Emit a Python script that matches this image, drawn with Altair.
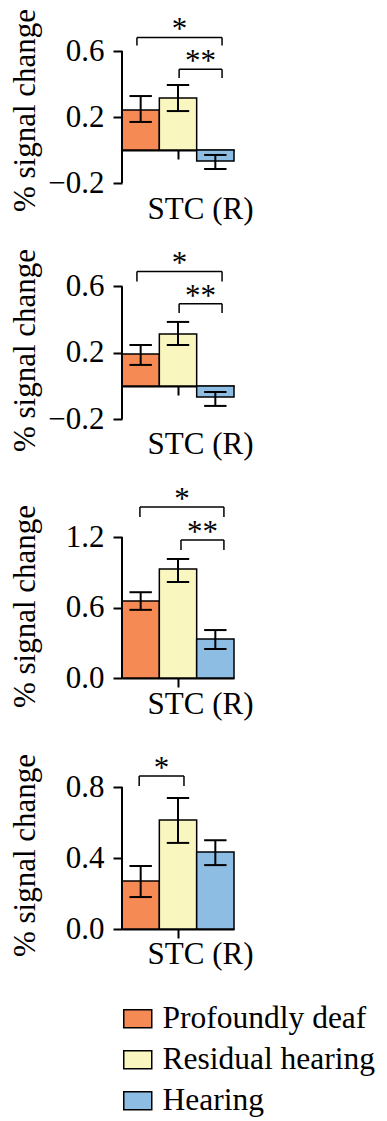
import altair as alt
import pandas as pd

# ---------------- data ----------------
groups = ["Profoundly deaf", "Residual hearing", "Hearing"]
colors = ["#F58A55", "#FAF6C0", "#8DBDE3"]
region = "STC (R)"
ytitle = "% signal change"

p1_mean = [0.242, 0.315, -0.067]
p1_lo = [0.170, 0.236, -0.115]
p1_hi = [0.327, 0.394, -0.030]
p1_ticks = [-0.2, 0.2, 0.6]
p1_sig = ["*", "**"]
p1_sig_x1 = [0.40, 1.53]
p1_sig_x2 = [2.68, 2.68]
p1_sig_y = [0.682, 0.490]
p1_sig_end = [0.633, 0.436]

p2_mean = [0.193, 0.313, -0.066]
p2_lo = [0.127, 0.247, -0.120]
p2_hi = [0.247, 0.386, -0.036]
p2_ticks = [-0.2, 0.2, 0.6]
p2_sig = ["*", "**"]
p2_sig_x1 = [0.40, 1.53]
p2_sig_x2 = [2.68, 2.68]
p2_sig_y = [0.690, 0.496]
p2_sig_end = [0.630, 0.440]

p3_mean = [0.655, 0.928, 0.332]
p3_lo = [0.580, 0.817, 0.247]
p3_hi = [0.730, 1.013, 0.408]
p3_ticks = [0.0, 0.6, 1.2]
p3_sig = ["*", "**"]
p3_sig_x1 = [0.48, 1.58]
p3_sig_x2 = [2.73, 2.73]
p3_sig_y = [1.455, 1.174]
p3_sig_end = [1.370, 1.090]

p4_mean = [0.270, 0.614, 0.434]
p4_lo = [0.180, 0.485, 0.360]
p4_hi = [0.355, 0.738, 0.500]
p4_ticks = [0.0, 0.4, 0.8]
p4_sig = ["*"]
p4_sig_x1 = [0.46]
p4_sig_x2 = [1.66]
p4_sig_y = [0.862]
p4_sig_end = [0.806]

# ---------------- layout ----------------
FONT = "Liberation Serif"
FS = 31
W = 112
# (slot top, slot bottom, zero pixel, pixels per unit) in page pixels
layouts = [
    (31, 240, 152, 165.0),
    (240, 490, 388, 166.0),
    (490, 748, 680, 117.5),
    (748, 990, 931, 177.5),
]
ytitle_center = [112, 352, 608, 857]   # page y of y-title centre
xtitle_base = [220, 455, 715, 965]     # page y of x-title baseline

legend = alt.Legend(
    title=None, orient="none", legendX=0, legendY=974,
    symbolType="M-1,-0.643H1V0.643H-1Z", symbolSize=784,
    symbolStrokeColor="black", symbolStrokeWidth=1.5, symbolOpacity=1,
    labelFont=FONT, labelFontSize=31.5, labelColor="black", labelOffset=9,
    labelLimit=500, rowPadding=8, padding=0,
)


def panel(mean, lo, hi, ticks, sig, sx1, sx2, sy, send, lay, ytc, xtb):
    top, bottom, zero, k = lay
    h = bottom - top
    dom = [(zero - bottom) / k, (zero - top) / k]
    zero_rel = zero - top

    df = pd.DataFrame({"group": groups, "mean": mean, "lo": lo, "hi": hi,
                       "i": list(range(len(groups)))})
    df["x0"] = df["i"]
    df["x1"] = df["i"] + 1
    df["xc"] = df["i"] + 0.5
    df["c0"] = df["xc"] - 0.3
    df["c1"] = df["xc"] + 0.3

    sdf = pd.DataFrame({"label": sig, "x1": sx1, "x2": sx2, "y": sy, "ye": send})
    sdf["xm"] = (sdf["x1"] + sdf["x2"]) / 2

    adf = pd.DataFrame({"a": [ticks[0]], "b": [ticks[-1]]})

    xs = alt.Scale(domain=[0, 3], nice=False, zero=False)
    ys = alt.Scale(domain=dom, nice=False, zero=False)

    xaxis = alt.Axis(
        values=[1.5], labels=False, grid=False, domain=True, domainColor="black",
        domainWidth=2, ticks=True, tickSize=9, tickWidth=2, tickColor="black",
        offset=-(h - zero_rel), title=region, titleX=78, titleY=xtb - zero,
        titleAlign="center", titleBaseline="alphabetic", titleFont=FONT,
        titleFontSize=FS, titleFontWeight="normal", titleColor="black",
    )
    yaxis = alt.Axis(
        values=ticks, format=".1f", domain=False, grid=False, ticks=True,
        tickSize=9, tickWidth=2, tickColor="black", labelFont=FONT,
        labelFontSize=FS, labelPadding=9, labelColor="black",
        title=ytitle, titleX=-88, titleY=ytc - top, titleAlign="center",
        titleBaseline="alphabetic", titleFont=FONT, titleFontSize=FS,
        titleFontWeight="normal", titleColor="black",
    )

    base = alt.Chart(df)
    bars = base.mark_bar(stroke="black", strokeWidth=1.5).encode(
        x=alt.X("x0:Q", scale=xs, axis=xaxis),
        x2="x1:Q",
        y=alt.Y("mean:Q", scale=ys, axis=yaxis),
        y2=alt.datum(0),
        color=alt.Color("group:N", scale=alt.Scale(domain=groups, range=colors),
                        legend=legend),
    )
    yline = alt.Chart(adf).mark_rule(color="black", strokeWidth=2).encode(
        x=alt.value(0), y="a:Q", y2="b:Q")
    err = base.mark_rule(color="black", strokeWidth=2).encode(
        x="xc:Q", y="lo:Q", y2="hi:Q")
    cap_hi = base.mark_rule(color="black", strokeWidth=2).encode(
        x="c0:Q", x2="c1:Q", y="hi:Q")
    cap_lo = base.mark_rule(color="black", strokeWidth=2).encode(
        x="c0:Q", x2="c1:Q", y="lo:Q")

    sbase = alt.Chart(sdf)
    br_h = sbase.mark_rule(color="black", strokeWidth=1.5).encode(
        x="x1:Q", x2="x2:Q", y="y:Q")
    br_l = sbase.mark_rule(color="black", strokeWidth=1.5).encode(
        x="x1:Q", y="ye:Q", y2="y:Q")
    br_r = sbase.mark_rule(color="black", strokeWidth=1.5).encode(
        x="x2:Q", y="ye:Q", y2="y:Q")
    stars = sbase.mark_text(font=FONT, fontSize=FS, baseline="alphabetic",
                            align="center", dy=2, color="black").encode(
        x="xm:Q", y="y:Q", text="label:N")

    return alt.layer(bars, yline, err, cap_hi, cap_lo, br_h, br_l, br_r, stars
                     ).properties(width=W, height=h)


panels = [
    panel(p1_mean, p1_lo, p1_hi, p1_ticks, p1_sig, p1_sig_x1, p1_sig_x2, p1_sig_y,
          p1_sig_end, layouts[0], ytitle_center[0], xtitle_base[0]),
    panel(p2_mean, p2_lo, p2_hi, p2_ticks, p2_sig, p2_sig_x1, p2_sig_x2, p2_sig_y,
          p2_sig_end, layouts[1], ytitle_center[1], xtitle_base[1]),
    panel(p3_mean, p3_lo, p3_hi, p3_ticks, p3_sig, p3_sig_x1, p3_sig_x2, p3_sig_y,
          p3_sig_end, layouts[2], ytitle_center[2], xtitle_base[2]),
    panel(p4_mean, p4_lo, p4_hi, p4_ticks, p4_sig, p4_sig_x1, p4_sig_x2, p4_sig_y,
          p4_sig_end, layouts[3], ytitle_center[3], xtitle_base[3]),
]

chart = alt.vconcat(*panels, spacing=0, bounds="flush").properties(
    padding={"left": 0, "top": 0, "right": 0, "bottom": 0},
    background="white",
).configure_view(stroke=None)

chart.save("out.html", embed_options={"renderer": "svg", "actions": False})
